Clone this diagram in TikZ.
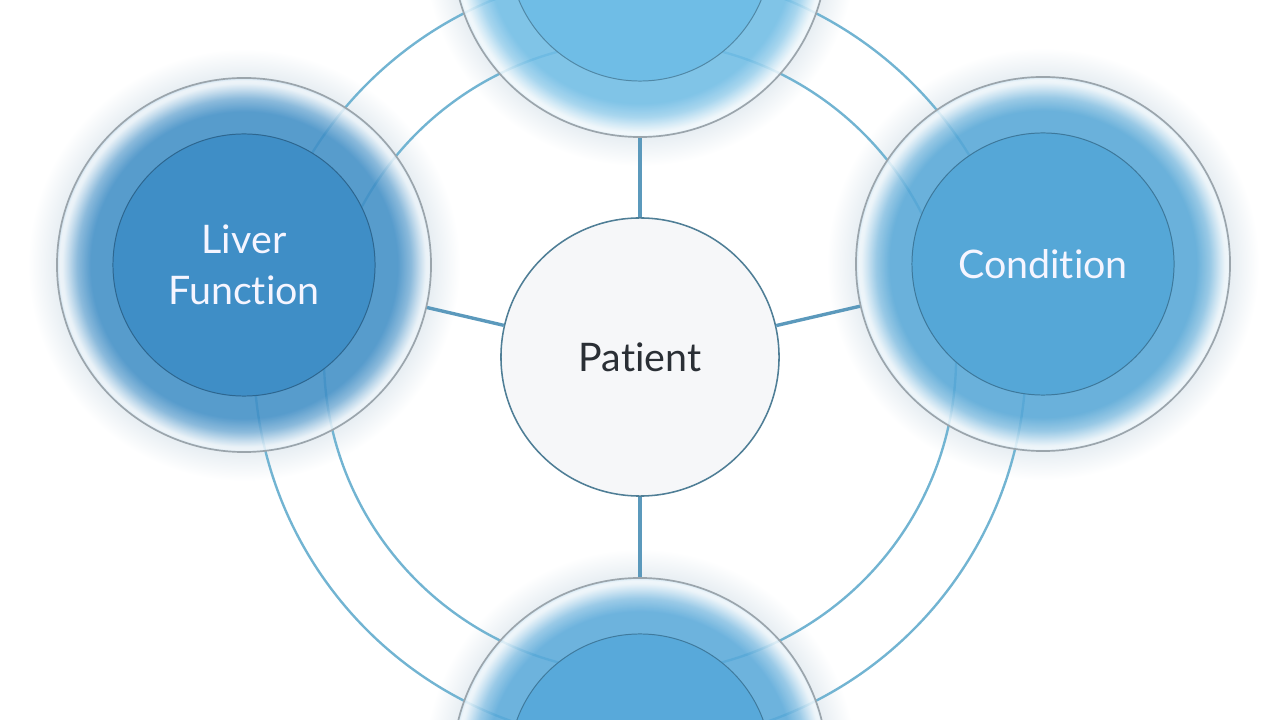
\documentclass[tikz,border=0pt]{standalone}
\usepackage{fontspec}
\setmainfont{Lato}[Ligatures=NoCommon]
\usetikzlibrary{backgrounds}

\definecolor{ringgray}{HTML}{9BA5AC}
\definecolor{orbitblue}{HTML}{72B4D2}
\definecolor{linkblue}{HTML}{5B99BC}
\definecolor{patientedge}{HTML}{4F7E96}
\definecolor{patientfill}{HTML}{F6F7F9}
\definecolor{patienttext}{HTML}{2A2F35}
\definecolor{halogray}{HTML}{E6EDF2}
\definecolor{liverblue}{HTML}{3F8EC6}
\definecolor{condblue}{HTML}{55A7D7}
\definecolor{upperblue}{HTML}{6FBDE6}
\definecolor{lowerblue}{HTML}{58A9DA}
\colorlet{satfill}{liverblue}

% ring round each satellite, light towards the rim (edge of circle = 25bp)
\pgfdeclareradialshading[satfill]{ringshade}{\pgfpoint{0bp}{0bp}}{%
  color(0bp)=(satfill); color(17.5bp)=(satfill); color(20.5bp)=(satfill);
  color(22.3bp)=(satfill!68!white); color(23.5bp)=(satfill!32!white);
  color(24.3bp)=(satfill!10!white); color(24.7bp)=(satfill!8!white);
  color(25bp)=(satfill!28!white); color(50bp)=(satfill!28!white)}
\pgfdeclareradialshading{haloshade}{\pgfpoint{0bp}{0bp}}{%
  color(0bp)=(halogray); color(21.5bp)=(halogray); color(25bp)=(white);
  color(50bp)=(white)}

\tikzset{
  satcolor/.code={\colorlet{satfill}{#1}},
  sat/.style={circle, minimum size=9.35cm, inner sep=0pt, draw=ringgray,
    line width=1.2pt, shade, shading=ringshade, fill opacity=0.85,
    text opacity=1, text=white!96!blue, align=center,
    font=\fontsize{28}{36}\selectfont,
    path picture={\fill[satfill, fill opacity=1, draw=satfill!72!black,
      line width=0.7pt] (path picture bounding box.center) circle[radius=3.275cm];}},
  patient/.style={circle, minimum size=6.95cm, inner sep=0pt, draw=patientedge,
    line width=1.1pt, fill=patientfill, text=patienttext,
    font=\fontsize{28}{36}\selectfont},
  link/.style={draw=linkblue, line width=2.4pt},
  orbit/.style={draw=orbitblue, line width=1.7pt},
}

\begin{document}
\begin{tikzpicture}[x=0.025cm, y=-0.025cm]
  \useasboundingbox (0,0) rectangle (1280,720);
  \clip (0,0) rectangle (1280,720);

  % centre
  \node[patient] (patient) at (640,357) {Patient};

  % satellites
  \node[sat, satcolor=liverblue] (liver) at (244,265) {Liver\\Function};
  \node[sat, satcolor=condblue] (condition) at (1043,264) {Condition};
  \node[sat, satcolor=upperblue] (upper) at (640,-50) {};
  \node[sat, satcolor=lowerblue] (lower) at (640,765) {};

  % spokes
  \draw[link] (patient) -- (liver);
  \draw[link] (patient) -- (condition);
  \draw[link] (patient) -- (upper);
  \draw[link] (patient) -- (lower);

  \begin{scope}[on background layer]
    % soft glow
    \foreach \s in {liver,condition,upper,lower}
      \shade[shading=haloshade] (\s.center) circle[radius=5.4cm];
    % two orbits round the centre
    \draw[orbit] (patient.center) circle[radius=9.65cm];
    \draw[orbit] (patient.center) circle[radius=7.9cm];
  \end{scope}
\end{tikzpicture}
\end{document}
